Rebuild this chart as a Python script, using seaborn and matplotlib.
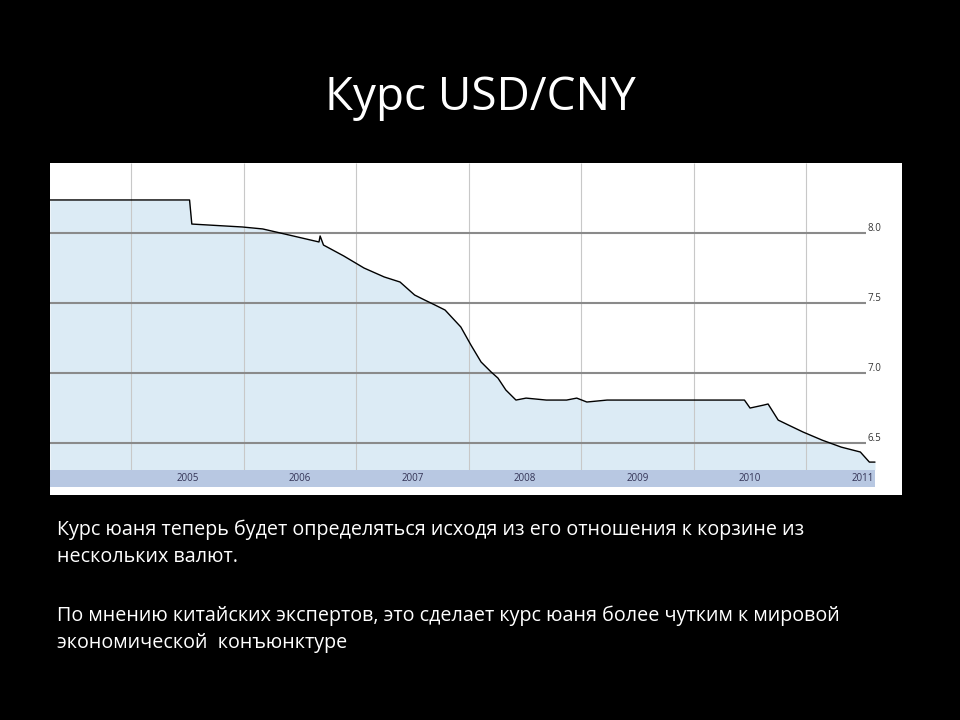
import matplotlib
matplotlib.use("Agg")
import matplotlib.pyplot as plt
import seaborn as sns
import pandas as pd

years = [2004.28, 2005.52, 2005.54, 2005.99, 2006.17, 2006.44, 2006.67, 2006.68, 2006.71, 2006.89,
         2007.07, 2007.25, 2007.39, 2007.52, 2007.61, 2007.70, 2007.79, 2007.93, 2008.02, 2008.11,
         2008.20, 2008.26, 2008.33, 2008.42, 2008.51, 2008.69, 2008.87, 2008.96, 2009.05, 2009.23,
         2009.59, 2010.11, 2010.45, 2010.50, 2010.62, 2010.66, 2010.75, 2010.84, 2010.97, 2011.14,
         2011.31, 2011.48, 2011.56, 2011.61]
rates = [8.236, 8.236, 8.064, 8.043, 8.029, 7.979, 7.936, 7.979, 7.914, 7.836,
         7.75, 7.686, 7.65, 7.557, 7.521, 7.486, 7.45, 7.329, 7.2, 7.079,
         7.007, 6.964, 6.879, 6.807, 6.821, 6.807, 6.807, 6.821, 6.793, 6.807,
         6.807, 6.807, 6.807, 6.75, 6.771, 6.779, 6.664, 6.629, 6.579, 6.521,
         6.471, 6.436, 6.364, 6.364]
year_labels = ["2005", "2006", "2007", "2008", "2009", "2010", "2011"]
ytick_vals = [6.5, 7.0, 7.5, 8.0]
ytick_labels = ["6.5", "7.0", "7.5", "8.0"]
title = "Курс USD/CNY"
para1 = "Курс юаня теперь будет определяться исходя из его отношения к корзине из\nнескольких валют."
para2 = "По мнению китайских экспертов, это сделает курс юаня более чутким к мировой\nэкономической  конъюнктуре"

df = pd.DataFrame({"year": years, "rate": rates})

sns.set_style("white")
plt.rcParams["font.family"] = ["Open Sans", "DejaVu Sans"]

W, H = 960, 720
fig = plt.figure(figsize=(9.6, 7.2), dpi=100, facecolor="black")

# chart box: x 50..902, y 163..495 (pixels)
ax = fig.add_axes([50 / W, 1 - 495 / H, 852 / W, 332 / H])
ax.set_facecolor("white")
xmin, xmax = 2004.28, 2011.85
ymin, ymax = 6.129, 8.5
ax.set_xlim(xmin, xmax)
ax.set_ylim(ymin, ymax)
plot_right = 2011.61
band_lo, band_hi = 6.186, 6.31

ax.fill_between(df["year"], band_hi, df["rate"], color="#dcebf5", lw=0, zorder=1)
for yv in [2005, 2006, 2007, 2008, 2009, 2010, 2011]:
    ax.vlines(yv, band_hi, ymax, color="#c8c8c8", lw=0.8, zorder=2)
for yv in ytick_vals:
    ax.hlines(yv, xmin, 2011.53, color="#8a8a8a", lw=1.5, zorder=2)
sns.lineplot(data=df, x="year", y="rate", ax=ax, color="black", lw=1.0, zorder=3)
ax.fill_between([xmin, plot_right], band_lo, band_hi, color="#b8c8e2", lw=0, zorder=2)
for i, lab in enumerate(year_labels):
    ax.text(2005.5 + i, (band_lo + band_hi) / 2, lab, ha="center", va="center",
            fontsize=7, color="#333355", zorder=4)
for v, lab in zip(ytick_vals, ytick_labels):
    ax.text(2011.54, v + 0.03, lab, ha="left", va="center", fontsize=7, color="#333333", zorder=4)
ax.set_xlabel("")
ax.set_ylabel("")
ax.set_xticks([])
ax.set_yticks([])
for s in ax.spines.values():
    s.set_visible(False)

fig.text(0.5, 1 - 98 / H, title, ha="center", va="center", color="white", fontsize=33)
fig.text(57 / W, 1 - 520 / H, para1, ha="left", va="top", color="white", fontsize=14.2, linespacing=1.45)
fig.text(57 / W, 1 - 606 / H, para2, ha="left", va="top", color="white", fontsize=14.2, linespacing=1.45)

fig.savefig("out.png", dpi=100, facecolor="black")
